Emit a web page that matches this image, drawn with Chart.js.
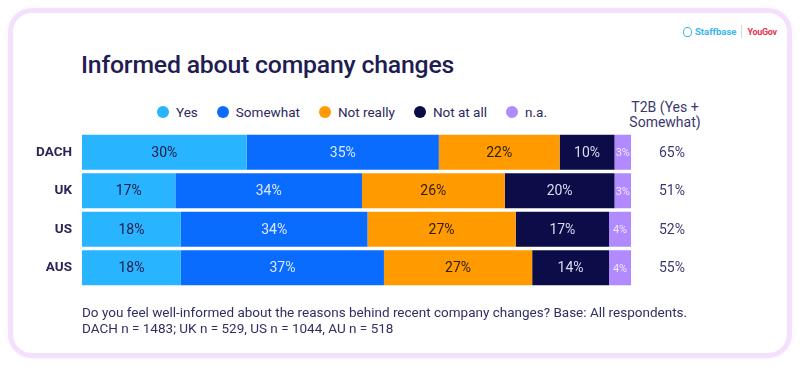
<!DOCTYPE html>
<html lang="en">
<head>
  <meta charset="UTF-8">
  <title>Informed about company changes</title>
  <script src="https://cdn.jsdelivr.net/npm/chart.js"></script>
  <style>
    html, body { margin: 0; padding: 0; background: #fff; }
    body { width: 800px; height: 372px; position: relative; overflow: hidden; font-family: Roboto, "Noto Sans", sans-serif; }
    .card {
      position: absolute; left: 8px; top: 8px; width: 774px; height: 340px;
      border: 5px solid #f3e0fd; border-radius: 24px;
      box-shadow: 0 0 4px #f8efff;
    }
    #chart { position: absolute; left: 0; top: 0; }
    .title { position: absolute; left: 81px; top: 50px; font-size: 24.8px; font-weight: 500; color: #211c52; letter-spacing: -0.2px; }
    .legend { position: absolute; left: 0; top: 104px; width: 704px; display: flex; justify-content: center; gap: 19px; font-size: 13.5px; color: #2c2860; }
    .legend span { display: flex; align-items: center; }
    .legend i { display: inline-block; width: 12px; height: 12px; border-radius: 50%; margin-right: 7px; }
    .t2b { position: absolute; left: 620px; top: 100px; width: 90px; text-align: center; font-size: 14px; line-height: 15px; color: #3b3870; }
    .note { position: absolute; left: 82px; top: 304px; font-size: 13.5px; line-height: 16px; color: #312e63; }
    .logo { position: absolute; left: 683px; top: 25px; display: flex; align-items: center; font-size: 9.5px; font-weight: 700; }
    .logo .sb { color: #3ab4f2; display: flex; align-items: center; }
    .logo .sb b { display: inline-block; width: 7px; height: 8px; border: 1.5px solid #3ab4f2; border-radius: 50% 50% 45% 45%; margin-right: 3px; }
    .logo .sep { width: 1px; height: 13px; background: #d9d6e6; margin: 0 5px; }
    .logo .yg { color: #e8344e; font-size: 9px; letter-spacing: -0.3px; }
  </style>
</head>
<body>
  <div class="card"></div>
  <div class="logo"><span class="sb"><b></b>Staffbase</span><span class="sep"></span><span class="yg">YouGov</span></div>
  <div class="title">Informed about company changes</div>
  <div class="legend" id="legend"></div>
  <div class="t2b">T2B (Yes +<br>Somewhat)</div>
  <canvas id="chart" width="800" height="372"></canvas>
  <div class="note">Do you feel well-informed about the reasons behind recent company changes? Base: All respondents.<br>DACH n = 1483; UK n = 529, US n = 1044, AU n = 518</div>

  <script>
    const regions = ['DACH', 'UK', 'US', 'AUS'];
    const seriesNames = ['Yes', 'Somewhat', 'Not really', 'Not at all', 'n.a.'];
    const yes = [30, 17, 18, 18];
    const somewhat = [35, 34, 34, 37];
    const notReally = [22, 26, 27, 27];
    const notAtAll = [10, 20, 17, 14];
    const na = [3, 3, 4, 4];
    const t2b = [65, 51, 52, 55];

    const colors = ['#29b4ff', '#0a6cff', '#ff9a00', '#0c0c48', '#b28aff'];
    const labelColors = ['#1c1a45', '#dce8ff', '#2a1d10', '#dcdcf0', '#efe6ff'];
    const values = [yes, somewhat, notReally, notAtAll, na];

    // html legend
    const legend = document.getElementById('legend');
    seriesNames.forEach((name, i) => {
      legend.innerHTML += '<span><i style="background:' + colors[i] + '"></i>' + name + '</span>';
    });

    // labels inside the bars and the T2B column
    const barLabels = {
      id: 'barLabels',
      afterDatasetsDraw(chart) {
        const ctx = chart.ctx;
        ctx.save();
        ctx.textAlign = 'center';
        ctx.textBaseline = 'middle';
        chart.data.datasets.forEach((ds, di) => {
          const meta = chart.getDatasetMeta(di);
          meta.data.forEach((bar, i) => {
            const small = ds.data[i] < 5;
            ctx.font = (small ? '11px' : '14px') + ' Roboto, sans-serif';
            ctx.fillStyle = labelColors[di];
            ctx.fillText(ds.data[i] + '%', (bar.x + bar.base) / 2, bar.y + 1);
          });
        });
        const yScale = chart.scales.y;
        ctx.font = '14px Roboto, sans-serif';
        ctx.fillStyle = '#3b3870';
        t2b.forEach((v, i) => {
          ctx.fillText(v + '%', chart.chartArea.right + 41, yScale.getPixelForValue(i) + 1);
        });
        ctx.restore();
      }
    };

    new Chart(document.getElementById('chart'), {
      type: 'bar',
      data: {
        labels: regions,
        datasets: seriesNames.map((name, i) => ({
          label: name,
          data: values[i],
          backgroundColor: colors[i],
          borderWidth: 0,
          barPercentage: 0.91,
          categoryPercentage: 1
        }))
      },
      options: {
        indexAxis: 'y',
        responsive: false,
        animation: false,
        layout: { padding: { top: 133, bottom: 85, left: 0, right: 169 } },
        plugins: { legend: { display: false }, tooltip: { enabled: false } },
        scales: {
          x: { stacked: true, min: 0, max: 100, display: false },
          y: {
            stacked: true,
            grid: { display: false },
            border: { display: false },
            afterFit: s => { s.width = 82; },
            ticks: { padding: 2, color: '#2a2557', font: { family: 'Roboto', size: 13.5, weight: 'bold' } }
          }
        }
      },
      plugins: [barLabels]
    });
  </script>
</body>
</html>
